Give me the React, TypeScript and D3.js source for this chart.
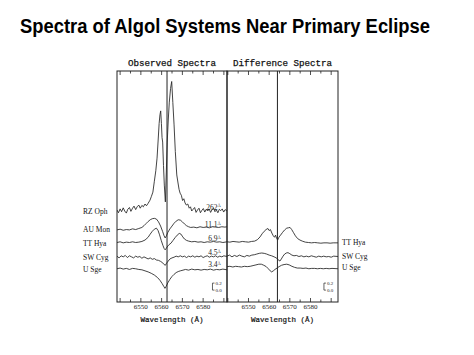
import React from 'react';
import * as d3 from 'd3';

// chart title and panel titles
const title = 'Spectra of Algol Systems Near Primary Eclipse';
const panelTitles = ['Observed Spectra', 'Difference Spectra'];
const xLabel = 'Wavelength (\u00c5)';

// wavelength ticks (Angstrom)
const tickLabels = [6550, 6560, 6570, 6580];
const tickStep = 5;

// x domains
const observedDomain: [number, number] = [6538.5, 6591.5];
const differenceDomain: [number, number] = [6539.6, 6593.3];
const observedLine = 6562.6;
const differenceLine = 6564.0;

// observed spectra: names, continuum offsets, equivalent widths
const observedNames = ['RZ Oph', 'AU Mon', 'TT Hya', 'SW Cyg', 'U Sge'];
const observedOffsets = [2.6, 2.09, 1.7, 1.29, 0.95];
const equivWidths = ['262', '11.1', '6.9', '4.5', '3.4'];

// difference spectra
const differenceNames = ['TT Hya', 'SW Cyg', 'U Sge'];
const differenceOffsets = [1.71, 1.31, 0.99];

// relative flux above continuum, [wavelength, flux]
const rzOph: [number, number][] = [
  [6538.5, 0.03], [6539.2, -0.05], [6540, 0.06], [6540.7, -0.02], [6541.5, 0.09], [6542.2, 0.0],
  [6543, -0.06], [6543.7, 0.05], [6544.5, 0.1], [6545.2, -0.01], [6546, 0.08], [6546.7, 0.14],
  [6547.5, 0.04], [6548.2, 0.12], [6549, 0.17], [6549.7, 0.08], [6550.5, 0.16], [6551.2, 0.12],
  [6552, 0.2], [6552.7, 0.15], [6553.5, 0.22], [6554.4, 0.31], [6555.1, 0.42], [6555.8, 0.54],
  [6556.5, 0.85], [6557.2, 1.15], [6557.8, 1.51], [6558.3, 2.0], [6558.8, 2.5], [6559.2, 2.75],
  [6559.55, 2.86], [6559.9, 2.5], [6560.2, 2.1], [6560.5, 1.97], [6560.9, 1.3], [6561.3, 0.74],
  [6561.8, 0.26], [6562.2, 1.0], [6562.7, 1.97], [6563.2, 2.6], [6563.7, 3.11], [6564.3, 3.5],
  [6564.85, 3.7], [6565.4, 3.1], [6566.0, 2.46], [6566.6, 1.7], [6567.3, 1.03], [6567.9, 0.8],
  [6568.4, 0.62], [6568.9, 0.51], [6569.5, 0.45], [6570.1, 0.3], [6570.7, 0.35], [6571.3, 0.23],
  [6571.9, 0.17], [6572.6, 0.2], [6573.3, 0.08], [6573.9, 0.12], [6574.5, 0.0], [6575.2, 0.05],
  [6575.9, 0.1], [6576.6, -0.04], [6577.3, 0.03], [6578.0, 0.08], [6578.7, -0.05], [6579.4, 0.02],
  [6580.1, 0.07], [6580.8, -0.03], [6581.5, 0.05], [6582.2, 0.0], [6582.9, 0.06], [6583.6, -0.04],
  [6584.3, 0.04], [6585.0, 0.08], [6585.7, -0.02], [6586.4, 0.03], [6587.1, -0.05], [6587.8, 0.05],
  [6588.5, 0.01], [6589.2, 0.06], [6589.9, -0.03], [6590.6, 0.04], [6591.5, 0.0],
];

const auMon: [number, number][] = [
  [6538.5, -0.03], [6540, -0.01], [6541.5, -0.04], [6543, -0.02], [6544.5, -0.03], [6546, 0.0],
  [6547.5, -0.02], [6549, 0.01], [6550.5, 0.04], [6551.5, 0.09], [6552.5, 0.15], [6553.5, 0.21],
  [6554.5, 0.26], [6555.5, 0.29], [6556.5, 0.3], [6557.5, 0.28], [6558.5, 0.2], [6559.5, 0.08],
  [6560.5, -0.08], [6561.2, -0.2], [6561.7, -0.26], [6562.3, -0.2], [6563, -0.1], [6564, 0.0],
  [6565, 0.08], [6566, 0.16], [6567, 0.22], [6568, 0.26], [6569, 0.25], [6570, 0.2], [6571, 0.14],
  [6572, 0.09], [6573, 0.06], [6574, 0.04], [6575.5, 0.05], [6577, 0.03], [6578.5, 0.06],
  [6580, 0.04], [6581.5, 0.05], [6583, 0.03], [6584.5, 0.06], [6586, 0.05], [6587.5, 0.04],
  [6589, 0.06], [6590.5, 0.05], [6591.5, 0.06],
];

const ttHya: [number, number][] = [
  [6538.5, 0.0], [6540, 0.02], [6541.5, -0.01], [6543, 0.01], [6544.5, 0.0], [6546, 0.02],
  [6547.5, 0.0], [6549, 0.01], [6550.5, 0.03], [6552, 0.07], [6553.5, 0.15], [6554.5, 0.24],
  [6555.5, 0.32], [6556.5, 0.38], [6557.5, 0.41], [6558.3, 0.34], [6559, 0.22], [6559.8, 0.06],
  [6560.6, -0.08], [6561.2, -0.17], [6561.7, -0.21], [6562.3, -0.16], [6563, -0.1], [6563.6, -0.06],
  [6564.5, -0.02], [6565.5, 0.06], [6566.5, 0.14], [6567.5, 0.21], [6568.5, 0.26], [6569.3, 0.24],
  [6570.2, 0.16], [6571, 0.1], [6572, 0.06], [6573, 0.04], [6574.5, 0.02], [6576, 0.03],
  [6577.5, 0.01], [6579, 0.02], [6580.5, 0.0], [6582, 0.02], [6583.5, 0.01], [6585, 0.03],
  [6586.5, 0.01], [6588, 0.02], [6589.5, 0.0], [6591.5, 0.02],
];

const swCyg: [number, number][] = [
  [6538.5, 0.02], [6539.5, -0.03], [6540.5, 0.03], [6541.5, 0.0], [6542.5, 0.04], [6543.5, -0.02],
  [6544.5, 0.03], [6545.5, 0.0], [6546.5, -0.03], [6547.5, 0.02], [6548.5, -0.01], [6549.5, 0.01],
  [6550.5, -0.04], [6551.5, 0.0], [6552.5, -0.03], [6553.5, -0.06], [6554.5, -0.03], [6555.5, -0.07],
  [6556.5, -0.05], [6557.5, -0.09], [6558.5, -0.1], [6559.5, -0.13], [6560.5, -0.17], [6561.2, -0.22],
  [6561.8, -0.24], [6562.4, -0.18], [6563.2, -0.12], [6564, -0.06], [6565, -0.03], [6566, -0.01],
  [6567, 0.02], [6568, 0.0], [6569, 0.03], [6570, 0.0], [6571, 0.02], [6572, -0.02], [6573, 0.02],
  [6574, 0.0], [6575, 0.03], [6576, -0.01], [6577, 0.02], [6578, 0.0], [6579, 0.03], [6580, -0.02],
  [6581, 0.01], [6582, 0.03], [6583, -0.01], [6584, 0.02], [6585, 0.0], [6586, 0.03], [6587, -0.01],
  [6588, 0.02], [6589, 0.0], [6590, 0.03], [6591.5, 0.01],
];

const uSge: [number, number][] = [
  [6538.5, 0.0], [6540, 0.02], [6541.5, -0.01], [6543, 0.01], [6544.5, -0.02], [6546, 0.01],
  [6547.5, 0.0], [6549, -0.02], [6550.5, -0.03], [6552, -0.06], [6553.5, -0.09], [6555, -0.13],
  [6556.5, -0.18], [6558, -0.25], [6559.2, -0.33], [6560.2, -0.42], [6561, -0.5], [6561.6, -0.56],
  [6562.2, -0.5], [6563, -0.4], [6564, -0.3], [6565, -0.22], [6566, -0.16], [6567, -0.11],
  [6568, -0.08], [6569, -0.06], [6570.3, -0.04], [6571.5, -0.02], [6573, -0.04], [6574.5, -0.01],
  [6576, -0.03], [6577.5, -0.02], [6579, -0.04], [6580.5, -0.02], [6582, -0.03], [6583.5, -0.01],
  [6585, -0.04], [6586.5, -0.02], [6588, -0.03], [6589.5, -0.01], [6591.5, -0.03],
];

const ttHyaDiff: [number, number][] = [
  [6539.6, 0.01], [6541, 0.0], [6542.5, 0.02], [6544, 0.01], [6545.5, 0.0], [6547, 0.02],
  [6548.5, 0.01], [6550, 0.0], [6551.5, 0.02], [6553, 0.03], [6554.3, 0.07], [6555.6, 0.15],
  [6556.6, 0.24], [6557.6, 0.31], [6558.5, 0.36], [6559.4, 0.39], [6560, 0.33], [6560.6, 0.36],
  [6561.3, 0.26], [6562, 0.18], [6562.6, 0.14], [6563.1, 0.2], [6563.6, 0.11], [6564.1, 0.06],
  [6564.7, 0.14], [6565.5, 0.2], [6566.5, 0.28], [6567.5, 0.35], [6568.5, 0.4], [6569.3, 0.41],
  [6570.1, 0.42], [6570.9, 0.36], [6571.8, 0.27], [6572.7, 0.18], [6573.8, 0.1], [6574.9, 0.06],
  [6576, 0.03], [6577.5, 0.0], [6579, -0.01], [6580.5, -0.02], [6582, -0.01], [6583.5, -0.02],
  [6585, -0.03], [6586.5, -0.02], [6588, -0.02], [6589.5, -0.03], [6591, -0.02], [6593.3, -0.02],
];

const swCygDiff: [number, number][] = [
  [6539.6, 0.0], [6540.8, 0.03], [6542, -0.02], [6543.2, 0.02], [6544.4, -0.01], [6545.6, 0.03],
  [6546.8, 0.0], [6548, -0.02], [6549.2, 0.02], [6550.4, 0.0], [6551.6, 0.03], [6552.8, 0.04],
  [6554, 0.06], [6555.2, 0.08], [6556.4, 0.09], [6557.6, 0.08], [6558.8, 0.06], [6560, 0.03],
  [6561.2, 0.01], [6562.4, -0.02], [6563.4, -0.05], [6564.3, -0.1], [6565.2, -0.14], [6565.9, -0.08],
  [6566.7, 0.0], [6567.5, 0.06], [6568.3, 0.09], [6569.1, 0.1], [6570, 0.07], [6571, 0.03],
  [6572, 0.01], [6573.2, 0.02], [6574.4, -0.01], [6575.6, 0.01], [6576.8, -0.02], [6578, 0.0],
  [6579.2, -0.02], [6580.4, 0.01], [6581.6, -0.01], [6582.8, -0.03], [6584, 0.0], [6585.2, -0.02],
  [6586.4, 0.0], [6587.6, -0.02], [6588.8, -0.01], [6590, -0.03], [6591.2, 0.0], [6593.3, -0.01],
];

const uSgeDiff: [number, number][] = [
  [6539.6, 0.02], [6541, 0.03], [6542.4, 0.01], [6543.8, 0.03], [6545.2, 0.02], [6546.6, 0.01],
  [6548, 0.03], [6549.4, 0.02], [6550.8, 0.03], [6552.2, 0.05], [6553.6, 0.07], [6555, 0.09],
  [6556.2, 0.09], [6557.4, 0.06], [6558.6, 0.02], [6559.6, -0.04], [6560.5, -0.1], [6561.2, -0.13],
  [6562, -0.1], [6562.8, -0.06], [6563.8, -0.02], [6564.8, 0.02], [6566, 0.06], [6567.2, 0.08],
  [6568.5, 0.09], [6569.7, 0.07], [6571, 0.03], [6572.3, 0.0], [6573.6, -0.02], [6575, -0.02],
  [6576.4, -0.03], [6577.8, -0.02], [6579.2, -0.04], [6580.6, -0.03], [6582, -0.03], [6583.4, -0.04],
  [6584.8, -0.03], [6586.2, -0.04], [6587.6, -0.03], [6589, -0.04], [6590.4, -0.03], [6593.3, -0.04],
];

const observedSeries = [rzOph, auMon, ttHya, swCyg, uSge];
const differenceSeries = [ttHyaDiff, swCygDiff, uSgeDiff];

// scale bar: 0.0 to 0.2 in relative flux
const scaleBar = [0, 0.2];
const scaleBarBase = 0.34;

const W = 474;
const H = 355;
const top = 71;
const bottom = 302;
const lineColor = '#222';
const serif = '"Liberation Serif", serif';
const mono = '"Liberation Mono", monospace';

type PanelProps = {
  x0: number;
  x1: number;
  domain: [number, number];
  rest: number;
  title: string;
  series: [number, number][][];
  offsets: number[];
  extras?: (s: d3.ScaleLinear<number, number>) => React.ReactNode;
};

const y = d3.scaleLinear().domain([0, 6.6]).range([bottom, top]);

const Panel = ({ x0, x1, domain, rest, title, series, offsets, extras }: PanelProps) => {
  const x = d3.scaleLinear().domain(domain).range([x0, x1]);
  const ticks = d3.range(Math.ceil(domain[0] / tickStep) * tickStep, domain[1], tickStep);
  return (
    <g>
      <clipPath id={`clip-${x0}`}>
        <rect x={x0} y={top} width={x1 - x0} height={bottom - top} />
      </clipPath>
      <g clipPath={`url(#clip-${x0})`}>
        {series.map((s, i) => {
          const line = d3
            .line<[number, number]>()
            .x((d) => x(d[0]))
            .y((d) => y(offsets[i] + d[1]));
          return <path key={i} d={line(s) || ''} fill="none" stroke={lineColor} strokeWidth={0.85} />;
        })}
      </g>
      <line x1={x(rest)} x2={x(rest)} y1={top} y2={bottom} stroke={lineColor} strokeWidth={1} />
      <rect x={x0} y={top} width={x1 - x0} height={bottom - top} fill="none" stroke={lineColor} strokeWidth={1} />
      {ticks.map((t) => {
        const len = t % 10 === 0 ? 4 : 2.5;
        return (
          <g key={t}>
            <line x1={x(t)} x2={x(t)} y1={top} y2={top + len} stroke={lineColor} strokeWidth={0.8} />
            <line x1={x(t)} x2={x(t)} y1={bottom} y2={bottom - len} stroke={lineColor} strokeWidth={0.8} />
          </g>
        );
      })}
      {tickLabels.map((t) => (
        <text key={t} x={x(t)} y={308.5} textAnchor="middle" fontFamily={serif} fontSize={7} fill="#222">
          {t}
        </text>
      ))}
      <text
        x={(x0 + x1) / 2}
        y={66}
        textAnchor="middle"
        fontFamily={mono}
        fontSize={9.2}
        fill="#111"
        stroke="#111"
        strokeWidth={0.25}
      >
        {title}
      </text>
      <text
        x={(x0 + x1) / 2}
        y={322}
        textAnchor="middle"
        fontFamily={mono}
        fontSize={7.5}
        fill="#111"
        stroke="#111"
        strokeWidth={0.2}
      >
        {xLabel}
      </text>
      {extras && extras(x)}
    </g>
  );
};

const ScaleBar = ({ bx }: { bx: number }) => {
  const yTop = y(scaleBarBase + scaleBar[1]);
  const yBot = y(scaleBarBase + scaleBar[0]);
  return (
    <g>
      <path d={`M${bx + 2},${yTop}H${bx}V${yBot}H${bx + 2}`} fill="none" stroke={lineColor} strokeWidth={0.7} />
      <text x={bx + 3} y={yTop + 1.5} fontFamily={serif} fontSize={5} fill="#222">
        {scaleBar[1].toFixed(1)}
      </text>
      <text x={bx + 3} y={yBot + 1.5} fontFamily={serif} fontSize={5} fill="#222">
        {scaleBar[0].toFixed(1)}
      </text>
    </g>
  );
};

export default function App() {
  return (
    <svg width={W} height={H} style={{ position: 'absolute', left: 0, top: 0, background: '#fff' }}>
      <text
        x={20}
        y={33}
        fontFamily='"Liberation Sans", Arial, sans-serif'
        fontWeight="bold"
        fontSize={19.5}
        textLength={410}
        lengthAdjust="spacingAndGlyphs"
        fill="#000"
      >
        {title}
      </text>
      <Panel
        x0={117}
        x1={227}
        domain={observedDomain}
        rest={observedLine}
        title={panelTitles[0]}
        series={observedSeries}
        offsets={observedOffsets}
        extras={(x) => (
          <g>
            {equivWidths.map((ew, i) => (
              <text
                key={ew}
                x={x(6588.5)}
                y={y(observedOffsets[i]) - 1.5}
                textAnchor="end"
                fontFamily={serif}
                fontSize={7.5}
                fill="#222"
              >
                {ew}
                <tspan fontSize={4.5} dy={-2.5}>
                  {'\u00c5'}
                </tspan>
              </text>
            ))}
            <ScaleBar bx={x(6584.5)} />
          </g>
        )}
      />
      <Panel
        x0={227}
        x1={338}
        domain={differenceDomain}
        rest={differenceLine}
        title={panelTitles[1]}
        series={differenceSeries}
        offsets={differenceOffsets}
        extras={(x) => <ScaleBar bx={x(6586.5)} />}
      />
      {observedNames.map((n, i) => (
        <text key={n} x={83} y={y(observedOffsets[i]) + 3} fontFamily={serif} fontSize={7.5} fill="#111">
          {n}
        </text>
      ))}
      {differenceNames.map((n, i) => (
        <text key={n} x={342} y={y(differenceOffsets[i]) + 2.5} fontFamily={serif} fontSize={7.5} fill="#111">
          {n}
        </text>
      ))}
    </svg>
  );
}
